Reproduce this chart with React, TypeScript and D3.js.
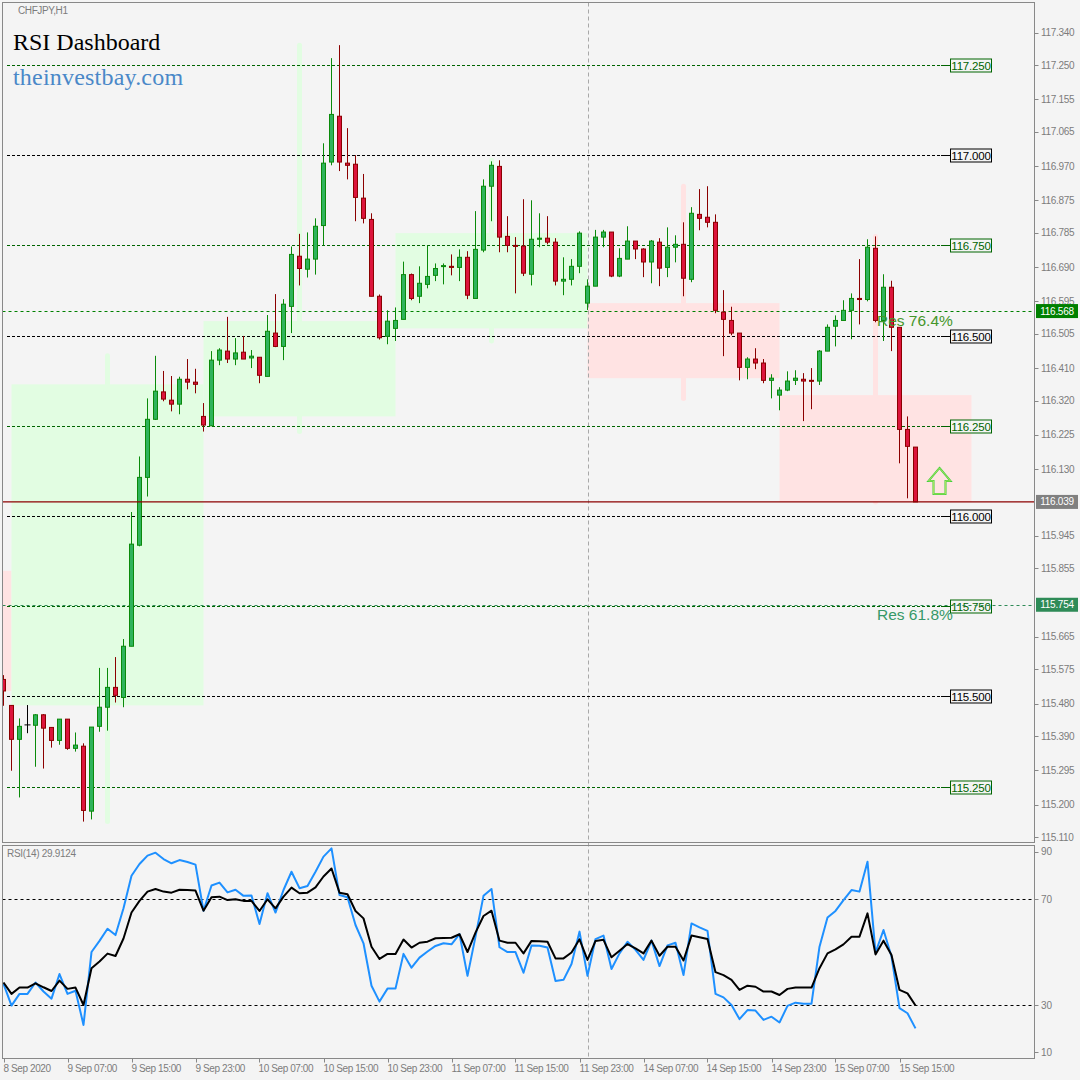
import React from 'react';
import * as d3 from 'd3';

// ---- data (CHFJPY H1, 8 Sep 23:00 .. 15 Sep 17:00) ----
const opens = [115.547,115.475,115.381,115.421,115.420,115.449,115.414,115.378,115.437,115.356,115.362,115.182,115.417,115.470,115.525,115.497,115.639,115.919,116.107,116.268,116.344,116.321,116.310,116.379,116.371,116.276,116.250,116.432,116.457,116.435,116.454,116.438,116.440,116.387,116.507,116.470,116.581,116.720,116.684,116.712,116.805,116.981,117.108,116.978,116.975,116.881,116.822,116.609,116.498,116.520,116.545,116.669,116.609,116.642,116.667,116.692,116.692,116.689,116.717,116.603,116.737,116.914,116.969,116.775,116.750,116.748,116.670,116.767,116.770,116.759,116.651,116.656,116.692,116.590,116.637,116.773,116.787,116.665,116.712,116.762,116.740,116.704,116.759,116.689,116.745,116.753,116.656,116.836,116.828,116.814,116.565,116.542,116.507,116.412,116.435,116.424,116.376,116.335,116.349,116.376,116.379,116.376,116.374,116.457,116.526,116.542,116.570,116.603,116.600,116.742,116.542,116.634,116.523,116.240,116.191];
const highs = [115.559,115.476,115.439,115.476,115.451,115.451,115.415,115.437,115.437,115.400,115.370,115.415,115.579,115.579,115.609,115.659,116.011,116.165,116.326,116.444,116.402,116.388,116.386,116.435,116.408,116.313,116.457,116.465,116.552,116.493,116.499,116.460,116.440,116.557,116.615,116.601,116.747,116.782,116.786,116.825,117.033,117.269,117.305,117.075,117.000,116.948,116.839,116.614,116.570,116.578,116.705,116.672,116.692,116.750,116.700,116.700,116.725,116.739,116.734,116.845,116.933,116.983,116.986,116.831,116.773,116.878,116.875,116.839,116.831,116.770,116.717,116.712,116.789,116.656,116.793,116.793,116.787,116.742,116.803,116.762,116.742,116.765,116.770,116.800,116.778,116.814,116.856,116.906,116.914,116.836,116.626,116.580,116.507,116.440,116.465,116.435,116.393,116.357,116.401,116.404,116.396,116.410,116.460,116.531,116.556,116.598,116.617,116.712,116.767,116.775,116.670,116.652,116.523,116.276,116.191];
const lows = [115.474,115.294,115.220,115.398,115.305,115.300,115.358,115.366,115.352,115.347,115.153,115.159,115.402,115.405,115.483,115.470,115.639,115.916,116.054,116.266,116.318,116.290,116.282,116.351,116.340,116.234,116.250,116.418,116.424,116.418,116.435,116.410,116.368,116.387,116.468,116.432,116.507,116.639,116.661,116.669,116.750,116.972,116.956,116.933,116.817,116.811,116.609,116.489,116.476,116.485,116.545,116.598,116.590,116.631,116.651,116.642,116.667,116.651,116.601,116.603,116.731,116.817,116.731,116.731,116.617,116.665,116.639,116.745,116.753,116.639,116.612,116.639,116.673,116.571,116.637,116.745,116.662,116.662,116.712,116.712,116.662,116.645,116.637,116.662,116.703,116.609,116.648,116.792,116.800,116.562,116.443,116.501,116.376,116.379,116.407,116.368,116.326,116.293,116.346,116.363,116.263,116.296,116.363,116.457,116.470,116.542,116.490,116.531,116.595,116.537,116.485,116.457,116.146,116.049,116.039];
const closes = [115.515,115.381,115.417,115.421,115.449,115.412,115.378,115.437,115.356,115.365,115.184,115.415,115.470,115.525,115.503,115.639,115.922,116.107,116.268,116.346,116.324,116.310,116.379,116.371,116.365,116.252,116.432,116.460,116.435,116.452,116.435,116.443,116.390,116.512,116.470,116.587,116.725,116.686,116.712,116.803,116.978,117.113,116.981,116.972,116.883,116.825,116.609,116.494,116.540,116.542,116.669,116.603,116.645,116.664,116.686,116.694,116.689,116.717,116.612,116.739,116.914,116.972,116.773,116.750,116.748,116.673,116.767,116.770,116.759,116.651,116.656,116.692,116.784,116.637,116.773,116.787,116.665,116.714,116.762,116.740,116.704,116.762,116.687,116.745,116.753,116.659,116.839,116.825,116.814,116.570,116.545,116.507,116.412,116.435,116.424,116.376,116.382,116.349,116.374,116.382,116.374,116.374,116.457,116.523,116.542,116.570,116.603,116.600,116.745,116.542,116.634,116.523,116.240,116.193,116.039];

const rsi14 = [38.6,34.3,36.7,36.7,38.3,36.8,35.4,39.3,36.2,36.7,30.1,44.0,46.5,49.5,48.6,55.2,65.0,69.4,72.9,73.9,72.9,72.5,73.6,73.5,73.3,65.7,70.8,71.0,69.7,70.0,69.4,69.4,65.6,70.0,66.6,71.0,74.4,72.3,72.5,74.5,78.6,81.6,72.5,71.9,65.6,62.8,52.1,47.5,49.4,49.4,54.8,51.8,53.6,54.0,55.3,55.4,55.5,56.8,50.1,57.4,63.7,65.7,54.4,53.6,53.6,49.6,54.3,54.2,54.0,47.7,47.7,49.9,54.9,47.1,54.3,54.7,48.1,50.6,53.1,51.5,49.6,54.4,48.7,52.1,52.1,46.9,56.3,55.7,55.0,42.5,41.4,39.6,35.8,37.4,37.0,35.2,35.2,33.9,36.2,36.7,36.7,36.7,44.0,49.6,51.1,53.0,55.9,55.9,64.7,49.2,54.4,49.0,35.8,34.5,29.9];
const rsiFast = [38.1,29.9,34.3,34.3,38.6,35.2,32.5,41.8,34.3,35.5,22.6,50.1,54.3,58.9,56.5,66.6,78.9,83.3,86.5,87.6,85.2,83.6,84.8,84.1,83.1,65.7,75.2,76.3,72.6,73.6,71.3,71.4,60.7,72.3,65.0,73.5,80.4,74.2,75.0,80.4,86.1,89.2,71.6,70.8,60.3,53.4,37.4,31.4,36.3,36.3,49.4,44.2,48.0,50.3,52.4,53.4,53.0,56.9,41.1,55.9,71.3,73.9,51.9,50.1,50.1,42.3,52.6,52.5,51.8,39.2,39.6,45.6,57.8,41.1,55.0,56.3,43.7,49.6,54.0,50.9,47.1,54.4,44.8,52.6,53.6,41.4,60.9,59.4,58.1,34.3,33.0,30.1,24.8,28.2,28.0,24.5,25.7,23.5,29.8,31.0,30.6,30.6,52.1,63.1,65.6,69.7,73.5,72.9,84.2,49.9,58.4,48.4,28.9,27.0,21.3];

const timeLabels = ['8 Sep 2020','9 Sep 07:00','9 Sep 15:00','9 Sep 23:00','10 Sep 07:00','10 Sep 15:00','10 Sep 23:00','11 Sep 07:00','11 Sep 15:00','11 Sep 23:00','14 Sep 07:00','14 Sep 15:00','14 Sep 23:00','15 Sep 07:00','15 Sep 15:00'];
const timeLabelStep = 8;
const priceTicks = [117.340,117.250,117.155,117.065,116.970,116.875,116.785,116.690,116.595,116.505,116.410,116.320,116.225,116.130,115.945,115.855,115.665,115.575,115.480,115.390,115.295,115.200,115.110];
const rsiTicks = [90, 70, 30, 10];
const rsiLevels = [70, 30];
const levelLines = [117.25, 117.0, 116.75, 116.5, 116.25, 116.0, 115.75, 115.5, 115.25];
const resLevels = [
  { price: 116.568, label: 'Res 76.4%' },
  { price: 115.754, label: 'Res 61.8%' },
];
const bidPrice = 116.039;
const rsiValueLabel = 'RSI(14) 29.9124';
const dayStarts = [1, 25, 49, 73, 97];
const dayLength = 24;
const prevDay = { open: 115.848, close: 115.515 };
const separatorIndex = 73;
const arrowIndex = 117;

// ---- layout ----
const L = 2.5, R = 1034.5, MT = 2.5, MB = 842.5, RT = 845.5, RB = 1058.5;
const x = d3.scaleLinear().domain([0, 114]).range([3.5, 915.5]);
const y = d3.scaleLinear().domain([115.25, 117.25]).range([786.6, 65]);
const yr = d3.scaleLinear().domain([30, 70]).range([1005.3, 899.3]);

const GREEN_FILL = '#2fb35c';
const GREEN_LINE = '#0a8a0a';
const RED_FILL = '#dc143c';
const RED_LINE = '#8b0000';
const AXIS_TXT = '#7c7c7c';
const SANS = '"Liberation Sans", Arial, sans-serif';

type Day = { x0: number; x1: number; open: number; close: number; high?: number; low?: number };

export default function App() {
  const days: Day[] = dayStarts.map((s) => {
    const e = Math.min(s + dayLength - 1, opens.length - 1);
    return {
      x0: x(s),
      x1: x(s + dayLength),
      open: opens[s],
      close: closes[e],
      high: d3.max(highs.slice(s, e + 1)) as number,
      low: d3.min(lows.slice(s, e + 1)) as number,
    };
  });
  days.unshift({ x0: x(1 - dayLength), x1: x(1), open: prevDay.open, close: prevDay.close });

  const lineFast = d3.line<number>().x((_, i) => x(i)).y((d) => yr(d));
  const ax = x(arrowIndex);
  const ab = y(bidPrice) - 8;
  const arrowPts = [
    [ax, ab - 26], [ax + 11, ab - 13], [ax + 6, ab - 13], [ax + 6, ab], [ax - 6, ab], [ax - 6, ab - 13], [ax - 11, ab - 13],
  ].map((p) => p.join(',')).join(' ');

  return (
    <div style={{ position: 'fixed', left: 0, top: 0, width: 1080, height: 1080, background: '#f4f4f4' }}>
      <svg width={1080} height={1080} style={{ display: 'block' }} fontFamily={SANS}>
        <defs>
          <clipPath id="mainClip"><rect x={L} y={MT} width={R - L} height={MB - MT} /></clipPath>
          <clipPath id="rsiClip"><rect x={L} y={RT} width={R - L} height={RB - RT} /></clipPath>
        </defs>
        <rect x={0} y={0} width={1080} height={1080} fill="#f4f4f4" />

        {/* daily zones */}
        <g clipPath="url(#mainClip)">
          {days.map((d, i) => {
            const up = d.close >= d.open;
            const fill = up ? '#e2fde2' : '#ffe3e3';
            const cx = (d.x0 + d.x1) / 2;
            return (
              <g key={'z' + i}>
                {d.high !== undefined && (
                  <line x1={cx} x2={cx} y1={y(d.high)} y2={y(d.low as number)} stroke={fill} strokeWidth={5} strokeLinecap="round" />
                )}
                <rect x={d.x0} y={y(Math.max(d.open, d.close))} width={d.x1 - d.x0} height={Math.abs(y(d.open) - y(d.close))} fill={fill} />
              </g>
            );
          })}
        </g>

        {/* separator */}
        <line x1={Math.round(x(separatorIndex)) + 0.5} x2={Math.round(x(separatorIndex)) + 0.5} y1={MT} y2={RB} stroke="#a8a8a8" strokeDasharray="4,3" />

        {/* level lines */}
        {levelLines.map((lv) => {
          const isHalf = Math.abs(lv * 2 - Math.round(lv * 2)) < 1e-6;
          const col = isHalf ? '#000000' : '#006400';
          const yy = Math.round(y(lv)) + 0.5;
          return (
            <g key={'lv' + lv}>
              <line x1={7} x2={941} y1={yy} y2={yy} stroke={col} strokeDasharray="3,2" />
              <line x1={941} x2={951} y1={yy} y2={yy} stroke={col} />
              <rect x={950.5} y={yy - 6.5} width={41} height={13} fill="#f4f4f4" stroke={col} />
              <text x={971} y={yy + 4} textAnchor="middle" fontSize={11.5} fill={col} letterSpacing={-0.2}>{lv.toFixed(3)}</text>
            </g>
          );
        })}

        {/* resistance lines */}
        {resLevels.map((r, i) => {
          const yy = Math.round(y(r.price)) + 0.5;
          return (
            <line key={'res' + i} x1={L} x2={R} y1={yy} y2={yy} stroke={i === 0 ? '#008000' : '#2e8b57'} strokeDasharray="3,3" />
          );
        })}

        {/* candles */}
        <g clipPath="url(#mainClip)">
          {opens.map((o, i) => {
            const c = closes[i];
            const up = c > o;
            const flat = c === o;
            const lc = flat ? '#000' : up ? GREEN_LINE : RED_LINE;
            const fc = up ? GREEN_FILL : RED_FILL;
            const cx = x(i);
            const top = y(Math.max(o, c));
            const bot = y(Math.min(o, c));
            return (
              <g key={'c' + i}>
                <line x1={cx} x2={cx} y1={y(highs[i])} y2={y(lows[i])} stroke={lc} strokeWidth={1} />
                {flat ? (
                  <line x1={cx - 3} x2={cx + 3} y1={top} y2={top} stroke={lc} />
                ) : (
                  <rect x={cx - 2} y={top} width={4} height={Math.max(bot - top, 1)} fill={fc} stroke={lc} strokeWidth={1} />
                )}
              </g>
            );
          })}
        </g>

        {/* bid line */}
        <line x1={L} x2={R} y1={y(bidPrice)} y2={y(bidPrice)} stroke="#8b0000" strokeWidth={1.2} />

        {/* arrow */}
        <polygon points={arrowPts} fill="none" stroke="#3ccf3c" strokeWidth={2} strokeLinejoin="miter" />
        <polygon points={arrowPts} fill="none" stroke="#e8f070" strokeWidth={0.6} />

        {/* resistance labels */}
        <text x={877} y={y(resLevels[0].price) + 15} fontSize={15.5} fill="#45962a">{resLevels[0].label}</text>
        <text x={877} y={y(resLevels[1].price) + 15} fontSize={15.5} fill="#369868">{resLevels[1].label}</text>

        {/* titles */}
        <text x={18} y={14} fontSize={10} fill={AXIS_TXT} letterSpacing={-0.4}>CHFJPY,H1</text>
        <text x={13} y={50} fontSize={24} fill="#000" fontFamily='"Liberation Serif", "DejaVu Serif", serif'>RSI Dashboard</text>
        <text x={13} y={85} fontSize={24} fill="#4a88c8" fontFamily='"Liberation Serif", "DejaVu Serif", serif' letterSpacing={0.2}>theinvestbay.com</text>

        {/* RSI panel */}
        {rsiLevels.map((v) => (
          <line key={'rl' + v} x1={L} x2={R} y1={Math.round(yr(v)) + 0.5} y2={Math.round(yr(v)) + 0.5} stroke="#000" strokeDasharray="3,3" />
        ))}
        <g clipPath="url(#rsiClip)">
          <path d={lineFast(rsiFast) as string} fill="none" stroke="#1e90ff" strokeWidth={2} strokeLinejoin="round" />
          <path d={lineFast(rsi14) as string} fill="none" stroke="#000" strokeWidth={2} strokeLinejoin="round" />
        </g>
        <text x={7} y={857} fontSize={10} fill={AXIS_TXT} letterSpacing={-0.3}>{rsiValueLabel}</text>

        {/* frames */}
        <rect x={L} y={MT} width={R - L} height={MB - MT} fill="none" stroke="#888" />
        <rect x={L} y={RT} width={R - L} height={RB - RT} fill="none" stroke="#888" />

        {/* price axis */}
        {priceTicks.map((p) => (
          <g key={'pt' + p}>
            <line x1={R} x2={R + 4} y1={Math.round(y(p)) + 0.5} y2={Math.round(y(p)) + 0.5} stroke="#888" />
            <text x={1041} y={y(p) + 3.5} fontSize={10} fill={AXIS_TXT} letterSpacing={-0.3}>{p.toFixed(3)}</text>
          </g>
        ))}
        {[
          { p: resLevels[0].price, bg: '#008000' },
          { p: bidPrice, bg: '#808080' },
          { p: resLevels[1].price, bg: '#2e8b57' },
        ].map((b) => (
          <g key={'box' + b.p}>
            <rect x={1036} y={y(b.p) - 7} width={42} height={14} fill={b.bg} />
            <text x={1057} y={y(b.p) + 3.5} textAnchor="middle" fontSize={10} fill="#fff" letterSpacing={-0.3}>{b.p.toFixed(3)}</text>
          </g>
        ))}

        {/* rsi axis */}
        {rsiTicks.map((v) => {
          const yy = v === 90 ? yr(v) + 5.5 : v === 10 ? yr(v) - 6 : yr(v);
          return (
            <g key={'rt' + v}>
              <line x1={R} x2={R + 4} y1={Math.round(yy) + 0.5} y2={Math.round(yy) + 0.5} stroke="#888" />
              <text x={1041} y={yy + 3.5} fontSize={10} fill={AXIS_TXT}>{v}</text>
            </g>
          );
        })}

        {/* time axis */}
        {timeLabels.map((t, k) => {
          const xx = Math.round(x(k * timeLabelStep)) + 0.5;
          return (
            <g key={'tl' + k}>
              <line x1={xx} x2={xx} y1={RB} y2={RB + 4} stroke="#888" />
              <text x={xx - 1} y={1072} fontSize={10} fill={AXIS_TXT} letterSpacing={-0.4}>{t}</text>
            </g>
          );
        })}
      </svg>
    </div>
  );
}
